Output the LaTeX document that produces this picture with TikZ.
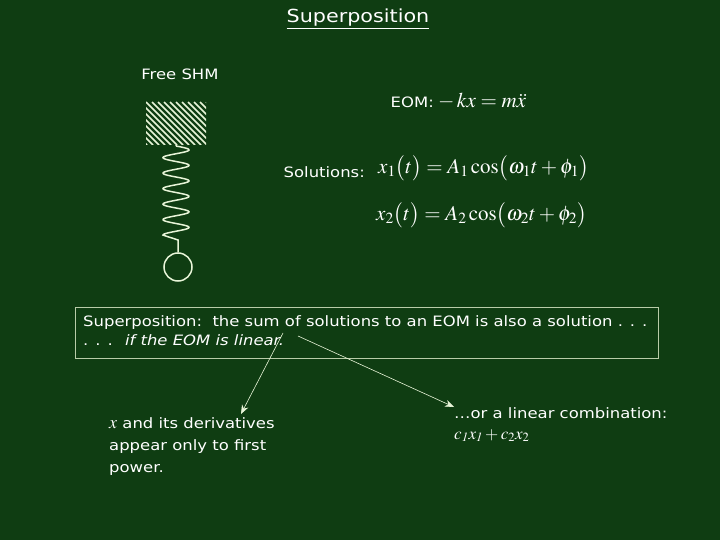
\documentclass[tikz,border=0pt]{standalone}
\usepackage{mathptmx}
\usepackage[no-math]{fontspec}
\setmainfont[FakeStretch=1.15]{DejaVu Sans}
\usetikzlibrary{arrows.meta}
\definecolor{bg}{HTML}{0F3D12}
\definecolor{fg}{HTML}{E8F5D8}
\definecolor{boxc}{HTML}{B8CCA8}
\tikzset{txt/.style={text=white,font=\fontsize{14.3}{18}\selectfont,inner sep=0pt},
 eq/.style={text=white,font=\fontsize{21}{24}\selectfont,inner sep=0pt},
 arr/.style={draw=fg,-{Stealth[length=9pt,width=7pt]},line width=0.6pt}}
\begin{document}
\begin{tikzpicture}[x=1pt,y=-1pt]
\fill[bg] (0,0) rectangle (720,540);
\useasboundingbox (0,0) rectangle (720,540);
\node[txt,font=\fontsize{18}{20}\selectfont] (title) at (358,19) {\underline{Superposition}};
\node[txt] (free) at (180,74) {Free SHM};
\node[minimum width=60pt,minimum height=43pt,inner sep=0pt] (wall) at (176,123.5) {};
\begin{scope}
\clip (146,102) rectangle (206,145);
\foreach \k in {-60,-54,...,60} \draw[fg,line width=1.6pt] (146+\k,102) -- ++(43,43);
\end{scope}
\node[circle,draw=fg,line width=1.5pt,minimum size=28pt,inner sep=0pt] (mass) at (178,267) {};
\draw[fg,line width=1.5pt] (wall.south) -- (176,146)
 plot[domain=0:5.75,samples=200,smooth] ({176+13*sin(360*\x)},{146+15.5*\x}) -- (178,240) -- (178,248) -- (mass.north);
\node[txt,anchor=east] (eoml) at (434,102) {EOM:};
\node[eq,anchor=west] (eom) at (438,101) {$-\,kx = m\ddot{x}$};
\node[txt,anchor=east] (soll) at (365,172) {Solutions:};
\node[eq,anchor=west] (s1e) at (378,168) {$x_1\big(t\big) = A_1\cos\!\big(\omega_1 t+\phi_1\big)$};
\node[eq,anchor=west] (s2e) at (376,215) {$x_2\big(t\big) = A_2\cos\!\big(\omega_2 t+\phi_2\big)$};
\node[draw=boxc,line width=0.8pt,minimum width=583pt,minimum height=51pt,inner sep=0pt] (box) at (367,333) {};
\node[txt,anchor=north west,align=left] (boxt) at (83,315) {Superposition:\ \ the sum of solutions to an EOM is also a solution . . .\\[1pt]. . . \ \textit{if the EOM is linear.}};
\node[txt,anchor=north west,align=left] (left) at (109,417) {{\fontsize{18}{17}\selectfont$\mathit{x}$} and its derivatives\\[4pt]appear only to first\\[4pt]power.};
\node[txt,anchor=north west,align=left] (right) at (454,407) {\ldots or a linear combination:\\[3pt]{\fontsize{17}{18}\selectfont$c_{\mathit 1}x_{\mathit 1} + c_2x_2$}};
\coordinate (a1) at (283,333);
\coordinate (a2) at (298,336);
\coordinate (t1) at (241,414);
\draw[arr] (a1) -- (t1);
\draw[arr] (a2) -- (right.north west);
\end{tikzpicture}
\end{document}
